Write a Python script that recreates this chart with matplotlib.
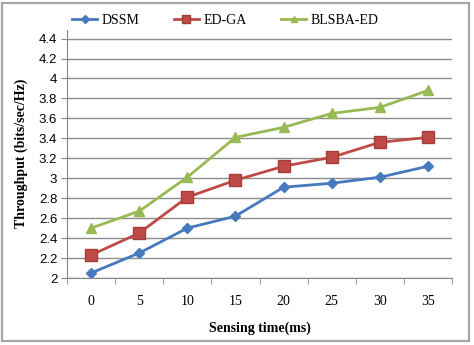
import matplotlib.pyplot as plt
from matplotlib.patches import Rectangle

# data
sensing_time = ['0', '5', '10', '15', '20', '25', '30', '35']
dssm = [2.05, 2.25, 2.50, 2.62, 2.91, 2.95, 3.01, 3.12]
ed_ga = [2.23, 2.45, 2.81, 2.98, 3.12, 3.21, 3.36, 3.41]
blsba_ed = [2.50, 2.67, 3.01, 3.41, 3.51, 3.65, 3.71, 3.88]
y_ticks = [2, 2.2, 2.4, 2.6, 2.8, 3, 3.2, 3.4, 3.6, 3.8, 4, 4.2, 4.4]

SERIF = 'Liberation Serif'
SANS = 'Liberation Sans'

fig = plt.figure(figsize=(4.74, 3.45), dpi=100)
fig.patch.set_facecolor('white')
# outer frame of the picture
fig.add_artist(Rectangle((0.005, 0.012), 0.985, 0.98, transform=fig.transFigure,
                         fill=False, edgecolor='#a6a6a6', linewidth=1.6))

ax = fig.add_axes([0.1414, 0.1942, 0.8122, 0.72])

x = list(range(len(sensing_time)))
ax.plot(x, dssm, color='#4679BD', lw=2, marker='D', ms=5.5, label='DSSM')
ax.plot(x, ed_ga, color='#BE4B48', lw=2, marker='s', ms=8,
        markeredgecolor='#A83C3A', label='ED-GA')
ax.plot(x, blsba_ed, color='#98B954', lw=2, marker='^', ms=7, label='BLSBA-ED')

ax.set_xlim(-0.5, len(sensing_time) - 0.5)
ax.set_ylim(2, 4.49)
ax.set_xticks(x)
ax.set_xticklabels(sensing_time, fontfamily=SERIF, fontsize=10)
ax.set_xticks([i - 0.5 for i in range(len(sensing_time) + 1)], minor=True)
ax.tick_params(axis='x', which='major', length=0, pad=12)
ax.tick_params(axis='x', which='minor', length=4, color='#868686')
ax.set_yticks(y_ticks)
ax.set_yticklabels([f'{v:g}' for v in y_ticks], fontfamily=SANS, fontsize=9.5)
ax.tick_params(axis='y', length=4, color='#868686', pad=3)

ax.grid(axis='y', color='#8c8c8c', lw=1)
ax.set_axisbelow(True)
for s in ['top', 'right']:
    ax.spines[s].set_visible(False)
ax.spines['left'].set_color('#868686')
ax.spines['bottom'].set_color('#868686')

ax.set_xlabel('Sensing time(ms)', fontfamily=SERIF, fontweight='bold',
              fontsize=10, labelpad=10)
ax.set_ylabel('Throughput (bits/sec/Hz)', fontfamily=SERIF, fontweight='bold',
              fontsize=10, labelpad=8)

leg = fig.legend(loc='upper center', bbox_to_anchor=(0.475, 0.995), ncol=3,
                 frameon=False, prop={'family': SERIF, 'size': 10},
                 handlelength=1.8, columnspacing=2.5, handletextpad=0.3,
                 markerscale=0.7)

fig.savefig('out.png', dpi=100, facecolor='white')
